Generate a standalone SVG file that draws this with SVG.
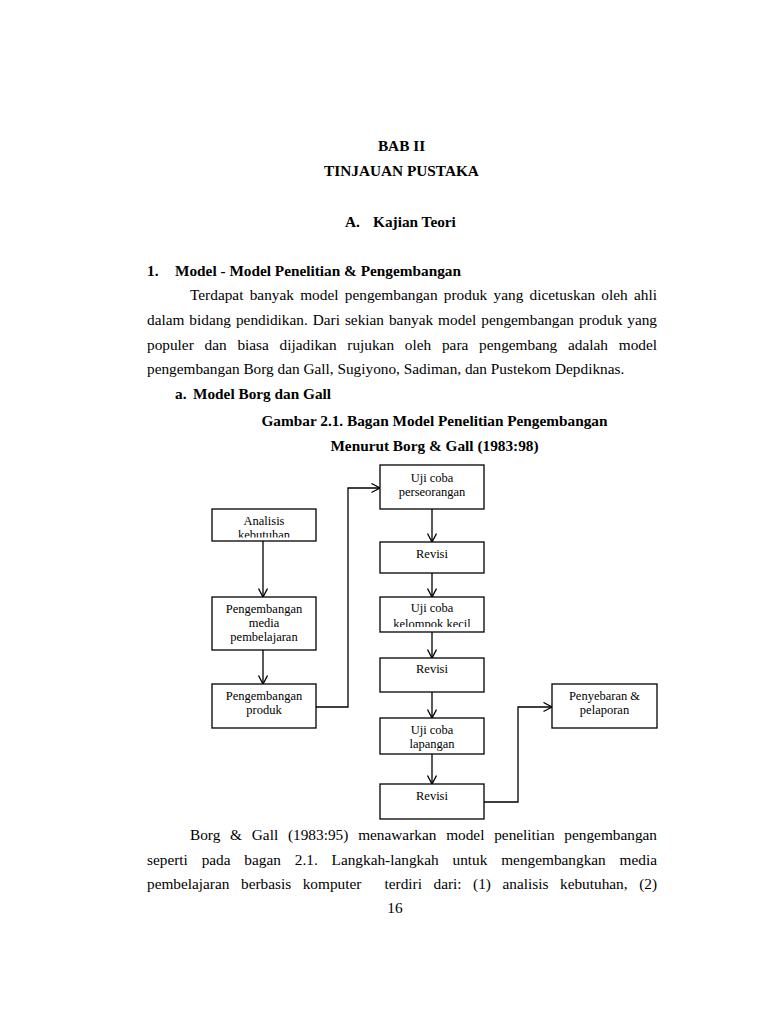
<svg xmlns="http://www.w3.org/2000/svg" width="768" height="1024" viewBox="0 0 768 1024">
<style>
text{font-family:"Liberation Serif","Times New Roman",serif;fill:#000}
.b{font-weight:bold;font-size:15.3px}
.t{font-size:15.3px}
.n{font-size:12.5px;text-anchor:middle}
.box{fill:#fff;stroke:#000;stroke-width:1.3}
.c{fill:none;stroke:#000;stroke-width:1.3}
</style>
<defs>
<marker id="ah" markerUnits="userSpaceOnUse" markerWidth="12" markerHeight="12" refX="9" refY="5" orient="auto">
<path d="M0.5,0.5 L9,5 L0.5,9.5" fill="none" stroke="#000" stroke-width="1.3"/>
</marker>
<clipPath id="clipA"><rect x="212" y="509" width="104" height="28.5"/></clipPath>
<clipPath id="clipK"><rect x="380" y="597" width="104" height="30"/></clipPath>
</defs>
<rect width="768" height="1024" fill="#fff"/>

<g id="heading">
<text class="b" x="401.5" y="151" text-anchor="middle">BAB II</text>
<text class="b" x="401.5" y="176" text-anchor="middle">TINJAUAN PUSTAKA</text>
<text class="b" x="345" y="227">A.</text>
<text class="b" x="373" y="227">Kajian Teori</text>
<text class="b" x="147" y="276">1.</text>
<text class="b" x="175" y="276">Model - Model Penelitian &amp; Pengembangan</text>
</g>
<g id="body1">
<text class="t" x="190" y="300" textLength="467" lengthAdjust="spacing" word-spacing="2.4">Terdapat banyak model pengembangan produk yang dicetuskan oleh ahli</text>
<text class="t" x="147" y="325" textLength="510" lengthAdjust="spacing" word-spacing="1.1">dalam bidang pendidikan. Dari sekian banyak model pengembangan produk yang</text>
<text class="t" x="147" y="350" textLength="510" lengthAdjust="spacing" word-spacing="6.95">populer dan biasa dijadikan rujukan oleh para pengembang adalah model</text>
<text class="t" x="147" y="374">pengembangan Borg dan Gall, Sugiyono, Sadiman, dan Pustekom Depdiknas.</text>
<text class="b" x="175" y="399">a.</text>
<text class="b" x="193" y="399">Model Borg dan Gall</text>
<text class="b" x="434.5" y="426" text-anchor="middle">Gambar 2.1. Bagan Model Penelitian Pengembangan</text>
<text class="b" x="434.5" y="451" text-anchor="middle">Menurut Borg &amp; Gall (1983:98)</text>
</g>

<g id="connectors">
<line class="c" x1="263" y1="541" x2="263" y2="597" marker-end="url(#ah)"/>
<line class="c" x1="263" y1="650" x2="263" y2="684" marker-end="url(#ah)"/>
<polyline class="c" points="316,707 348,707 348,488 380,488" marker-end="url(#ah)"/>
<line class="c" x1="432" y1="509" x2="432" y2="542" marker-end="url(#ah)"/>
<line class="c" x1="432" y1="573" x2="432" y2="597" marker-end="url(#ah)"/>
<line class="c" x1="432" y1="632" x2="432" y2="658" marker-end="url(#ah)"/>
<line class="c" x1="432" y1="692" x2="432" y2="718" marker-end="url(#ah)"/>
<line class="c" x1="432" y1="754" x2="432" y2="784" marker-end="url(#ah)"/>
<polyline class="c" points="484,802 518,802 518,707 552,707" marker-end="url(#ah)"/>
</g>

<g id="analisis">
<rect class="box" x="212" y="509" width="104" height="32"/>
<g clip-path="url(#clipA)">
<text class="n" x="264" y="525">Analisis</text>
<text class="n" x="264" y="539">kebutuhan</text>
</g>
</g>
<g id="pengembangan-media">
<rect class="box" x="212" y="597" width="104" height="53"/>
<text class="n" x="264" y="613">Pengembangan</text>
<text class="n" x="264" y="627">media</text>
<text class="n" x="264" y="641">pembelajaran</text>
</g>
<g id="pengembangan-produk">
<rect class="box" x="212" y="684" width="104" height="44"/>
<text class="n" x="264" y="700">Pengembangan</text>
<text class="n" x="264" y="714">produk</text>
</g>
<g id="uji-perseorangan">
<rect class="box" x="380" y="465" width="104" height="44"/>
<text class="n" x="432" y="482">Uji coba</text>
<text class="n" x="432" y="496">perseorangan</text>
</g>
<g id="revisi-1">
<rect class="box" x="380" y="542" width="104" height="31"/>
<text class="n" x="432" y="558">Revisi</text>
</g>
<g id="uji-kelompok">
<rect class="box" x="380" y="597" width="104" height="35"/>
<g clip-path="url(#clipK)">
<text class="n" x="432" y="612">Uji coba</text>
<text class="n" x="432" y="628">kelompok kecil</text>
</g>
</g>
<g id="revisi-2">
<rect class="box" x="380" y="658" width="104" height="34"/>
<text class="n" x="432" y="673">Revisi</text>
</g>
<g id="uji-lapangan">
<rect class="box" x="380" y="718" width="104" height="36"/>
<text class="n" x="432" y="734">Uji coba</text>
<text class="n" x="432" y="748">lapangan</text>
</g>
<g id="revisi-3">
<rect class="box" x="380" y="784" width="104" height="35"/>
<text class="n" x="432" y="800">Revisi</text>
</g>
<g id="penyebaran">
<rect class="box" x="552" y="684" width="105" height="44"/>
<text class="n" x="604.5" y="700">Penyebaran &amp;</text>
<text class="n" x="604.5" y="714">pelaporan</text>
</g>

<g id="body2">
<text class="t" x="190" y="840" textLength="467" lengthAdjust="spacing" word-spacing="5.95">Borg &amp; Gall (1983:95) menawarkan model penelitian pengembangan</text>
<text class="t" x="147" y="865" textLength="510" lengthAdjust="spacing" word-spacing="10">seperti pada bagan 2.1. Langkah-langkah untuk mengembangkan media</text>
<text class="t" x="147" y="889" textLength="510" lengthAdjust="spacing" word-spacing="7.75" style="white-space:pre">pembelajaran berbasis komputer  terdiri dari: (1) analisis kebutuhan, (2)</text>
<text class="t" x="395" y="913" text-anchor="middle">16</text>
</g>
</svg>
